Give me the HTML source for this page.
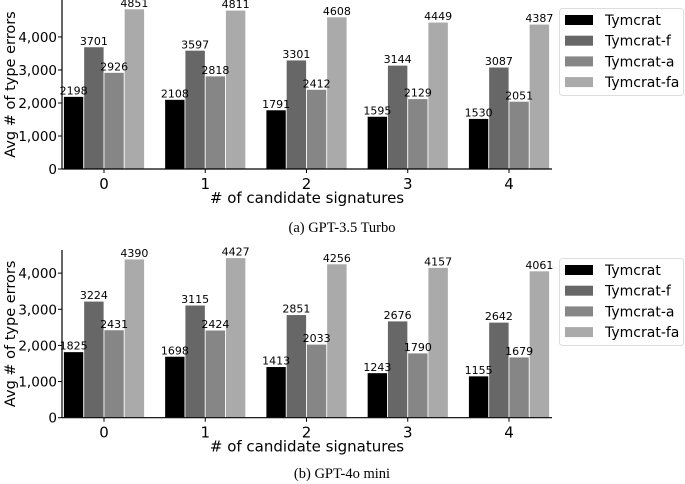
<!DOCTYPE html>
<html><head><meta charset="utf-8"><style>
body{margin:0;background:#fff;width:685px;height:484px;overflow:hidden}
svg{display:block}
text{font-family:"DejaVu Sans","Liberation Sans",sans-serif}
</style></head><body>
<svg id="s" width="685" height="484" viewBox="0 0 685 484" xmlns="http://www.w3.org/2000/svg">
<text x="342" y="232" text-anchor="middle" font-size="14.5" style="font-family:'Liberation Serif',serif">(a) GPT-3.5 Turbo</text>
<text x="342" y="478" text-anchor="middle" font-size="14.5" style="font-family:'Liberation Serif',serif">(b) GPT-4o mini</text>
</svg>
<script>
const categories=[0,1,2,3,4];
const seriesNames=["Tymcrat","Tymcrat-f","Tymcrat-a","Tymcrat-fa"];
const colors=["#000000","#676767","#868686","#aaaaaa"];
const gpt35=[[2198,2108,1791,1595,1530],[3701,3597,3301,3144,3087],[2926,2818,2412,2129,2051],[4851,4811,4608,4449,4387]];
const gpt4o=[[1825,1698,1413,1243,1155],[3224,3115,2851,2676,2642],[2431,2424,2033,1790,1679],[4390,4427,4256,4157,4061]];
const yTicks=[0,1000,2000,3000,4000];
const NS="http://www.w3.org/2000/svg";
const svg=document.getElementById('s');
function mk(t,a,p){const e=document.createElementNS(NS,t);for(const k in a)e.setAttribute(k,a[k]);(p||svg).appendChild(e);return e;}
function chart(data,y0,ymax,name){
  const g=mk('g',{});
  
  
  const L=62,R=552;
  const axTop=name==='chart-a'?0:250;
  const Y=v=>y0-v/ymax*(y0-axTop);
  const step=101.25,x0=104,bw=20.25;
  const X=i=>x0+i*step;
  data.forEach((ser,s)=>ser.forEach((v,i)=>{
    const bx=X(i)-2*bw+s*bw;
    const r=mk('rect',{x:bx,y:Y(v),width:bw,height:y0-Y(v),fill:colors[s],stroke:'#fff','stroke-width':0.8},g);
    
    
  }));
  data.forEach((ser,s)=>ser.forEach((v,i)=>{
    const bx=X(i)-2*bw+s*bw;
    const t=mk('text',{x:bx+bw/2,y:Y(v)-2,'text-anchor':'middle','font-size':11},g);
    t.textContent=v;
    
    
  }));
  mk('line',{x1:L,y1:axTop,x2:L,y2:y0,stroke:'#000','stroke-width':1.2},g);
  mk('line',{x1:L,y1:y0,x2:R,y2:y0,stroke:'#000','stroke-width':1.2},g);
  yTicks.forEach(v=>{
    mk('line',{x1:L-4,y1:Y(v),x2:L,y2:Y(v),stroke:'#000'},g);
    const t=mk('text',{x:L-5,y:Y(v)+5,'text-anchor':'end','font-size':13.5},g);
    t.textContent=v.toLocaleString('en-US');
    
    
  });
  categories.forEach((c,i)=>{
    mk('line',{x1:X(i),y1:y0,x2:X(i),y2:y0+4,stroke:'#000'},g);
    const t=mk('text',{x:X(i),y:y0+20,'text-anchor':'middle','font-size':15},g);
    t.textContent=c;
    
    
  });
  const xl=mk('text',{x:307,y:y0+34,'text-anchor':'middle','font-size':15},g);
  xl.textContent='# of candidate signatures';
  
  
  const cy=(axTop+y0)/2;
  const yl=mk('text',{x:11,y:cy,'text-anchor':'middle','font-size':14.5,transform:`rotate(-90 11 ${cy})`,'dominant-baseline':'central'},g);
  yl.textContent='Avg # of type errors';
  
  
  const ly=axTop+8;
  const lg=mk('g',{},g);
  
  
  mk('rect',{x:559.5,y:ly+0.5,width:124,height:87,rx:3,fill:'#fff',stroke:'#ddd'},lg);
  seriesNames.forEach((n,s)=>{
    const yy=ly+12+s*20.7;
    mk('rect',{x:565,y:yy-5,width:28,height:10,fill:colors[s]},lg);
    const t=mk('text',{x:605,y:yy+5,'font-size':14},lg);
    t.textContent=n;
    
    
  });
}
chart(gpt35,169,5120,'chart-a');
chart(gpt4o,417.7,4640,'chart-b');
</script>
</body></html>
